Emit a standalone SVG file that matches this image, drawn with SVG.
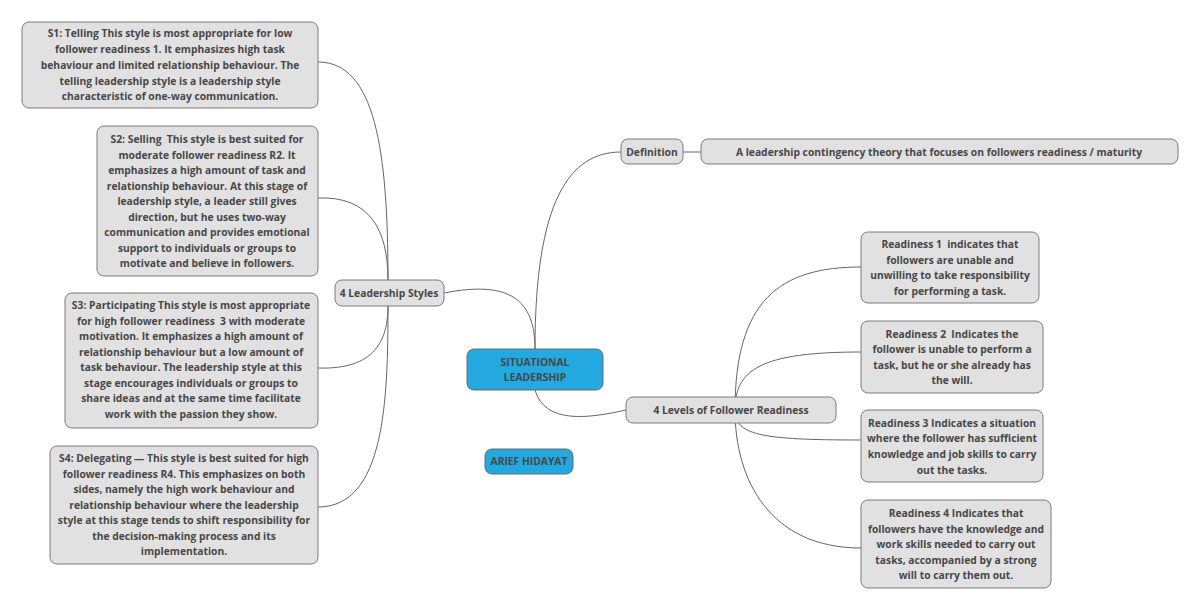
<svg xmlns="http://www.w3.org/2000/svg" width="1200" height="610" viewBox="0 0 1200 610">
<style>
.n{fill:#e1e1e1;stroke:#7a7a7a;stroke-width:1}
.c{fill:#24a8e0;stroke:#6b6b6b;stroke-width:1}
text{font-family:"Open Sans","Noto Sans",sans-serif;font-weight:bold;font-size:10.3px;fill:#474747;text-anchor:middle}
#conn path{fill:none;stroke:#666;stroke-width:1}
</style>
<rect width="1200" height="610" fill="#fff"/>
<g id="conn">
<path d="M388,280 C388,150 375,62 318,62"/>
<path d="M388,280 C388,230 370,196 318,198"/>
<path d="M388,306 C388,340 375,370 318,368"/>
<path d="M388,306 C388,400 385,507 318,507"/>
<path d="M535,349 C535,300 510,280 444,293"/>
<path d="M535,349 C535,200 570,152 621,152"/>
<path d="M535,390 C545,425 590,418 626,410"/>
<path d="M683,152 L701,152"/>
<path d="M735,410 C735,300 780,267 861,267"/>
<path d="M735,410 C735,370 760,352 861,352"/>
<path d="M735,410 C735,435 760,440 861,440"/>
<path d="M735,410 C735,480 770,548 861,548"/>
</g>
<g id="s1"><rect class="n" x="22" y="22" width="296" height="86" rx="7"/>
<text x="170" y="37">S1: Telling This style is most appropriate for low</text>
<text x="170" y="53">follower readiness 1. It emphasizes high task</text>
<text x="170" y="69">behaviour and limited relationship behaviour. The</text>
<text x="170" y="85">telling leadership style is a leadership style</text>
<text x="170" y="100">characteristic of one-way communication.</text></g>
<g id="s2"><rect class="n" x="97" y="126" width="221" height="150" rx="7"/>
<text x="207" y="143" xml:space="preserve">S2: Selling  This style is best suited for</text>
<text x="207" y="159">moderate follower readiness R2. It</text>
<text x="207" y="174">emphasizes a high amount of task and</text>
<text x="207" y="190">relationship behaviour. At this stage of</text>
<text x="207" y="205">leadership style, a leader still gives</text>
<text x="207" y="221">direction, but he uses two-way</text>
<text x="207" y="236">communication and provides emotional</text>
<text x="207" y="252">support to individuals or groups to</text>
<text x="207" y="267">motivate and believe in followers.</text></g>
<g id="s3"><rect class="n" x="65" y="293" width="253" height="135" rx="7"/>
<text x="191" y="309">S3: Participating This style is most appropriate</text>
<text x="191" y="325" xml:space="preserve">for high follower readiness  3 with moderate</text>
<text x="191" y="340">motivation. It emphasizes a high amount of</text>
<text x="191" y="356">relationship behaviour but a low amount of</text>
<text x="191" y="371">task behaviour. The leadership style at this</text>
<text x="191" y="387">stage encourages individuals or groups to</text>
<text x="191" y="402">share ideas and at the same time facilitate</text>
<text x="191" y="418">work with the passion they show.</text></g>
<g id="s4"><rect class="n" x="50" y="446" width="268" height="118" rx="7"/>
<text x="184" y="462">S4: Delegating — This style is best suited for high</text>
<text x="184" y="478">follower readiness R4. This emphasizes on both</text>
<text x="184" y="493">sides, namely the high work behaviour and</text>
<text x="184" y="509">relationship behaviour where the leadership</text>
<text x="184" y="524">style at this stage tends to shift responsibility for</text>
<text x="184" y="540">the decision-making process and its</text>
<text x="184" y="555">implementation.</text></g>
<g id="styles"><rect class="n" x="335" y="280" width="109" height="26" rx="7"/><text x="389" y="297">4 Leadership Styles</text></g>
<g id="center"><rect class="c" x="467" y="349" width="136" height="41" rx="7"/><text x="535" y="366">SITUATIONAL</text><text x="535" y="381">LEADERSHIP</text></g>
<g id="author"><rect class="c" x="485" y="449" width="88" height="25" rx="7"/><text x="529" y="465">ARIEF HIDAYAT</text></g>
<g id="def"><rect class="n" x="621" y="139" width="62" height="25" rx="7"/><text x="652" y="156">Definition</text></g>
<g id="deftext"><rect class="n" x="701" y="139" width="477" height="25" rx="7"/><text x="939" y="156">A leadership contingency theory that focuses on followers readiness / maturity</text></g>
<g id="levels"><rect class="n" x="626" y="397" width="210" height="26" rx="7"/><text x="731" y="414">4 Levels of Follower Readiness</text></g>
<g id="r1"><rect class="n" x="861" y="232" width="178" height="71" rx="7"/>
<text x="950" y="248" xml:space="preserve">Readiness 1  indicates that</text>
<text x="950" y="264">followers are unable and</text>
<text x="950" y="279">unwilling to take responsibility</text>
<text x="950" y="295">for performing a task.</text></g>
<g id="r2"><rect class="n" x="861" y="321" width="182" height="72" rx="7"/>
<text x="952" y="338" xml:space="preserve">Readiness 2  Indicates the</text>
<text x="952" y="353">follower is unable to perform a</text>
<text x="952" y="369">task, but he or she already has</text>
<text x="952" y="384">the will.</text></g>
<g id="r3"><rect class="n" x="861" y="410" width="182" height="72" rx="7"/>
<text x="952" y="427">Readiness 3 Indicates a situation</text>
<text x="952" y="442">where the follower has sufficient</text>
<text x="952" y="458">knowledge and job skills to carry</text>
<text x="952" y="474">out the tasks.</text></g>
<g id="r4"><rect class="n" x="861" y="500" width="190" height="88" rx="7"/>
<text x="956" y="517">Readiness 4 Indicates that</text>
<text x="956" y="533">followers have the knowledge and</text>
<text x="956" y="548">work skills needed to carry out</text>
<text x="956" y="564">tasks, accompanied by a strong</text>
<text x="956" y="579">will to carry them out.</text></g>
</svg>
